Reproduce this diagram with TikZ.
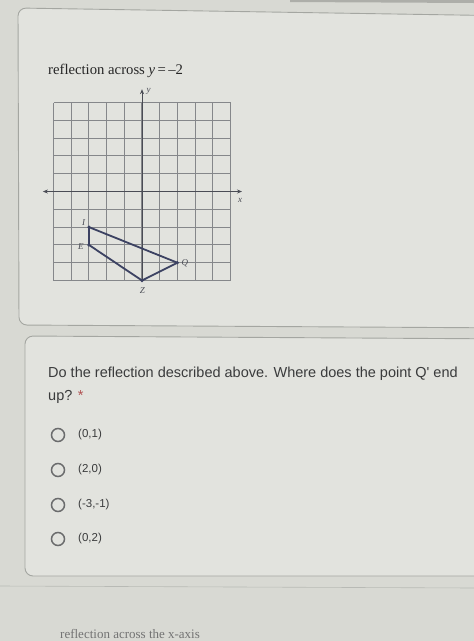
\documentclass[tikz,border=0pt]{standalone}
\usepackage{fontspec}
\setmainfont{Liberation Serif}
\newfontfamily\qfont{Liberation Sans}
\usetikzlibrary{arrows.meta}
\definecolor{bg}{HTML}{D8D9D3}
\definecolor{cardfill}{HTML}{E2E3DE}
\definecolor{cardline}{HTML}{A4A6A1}
\definecolor{gridc}{HTML}{85878A}
\definecolor{axisc}{HTML}{4A4C55}
\definecolor{tric}{HTML}{3C4262}
\definecolor{qtext}{HTML}{3A3B3C}
\definecolor{radio}{HTML}{6A6B6C}
\definecolor{starc}{HTML}{B05050}
\tikzset{
  card/.style={draw=cardline, line width=0.9pt, fill=cardfill, rounded corners=8pt},
  gridline/.style={draw=gridc, line width=1.1pt},
  axisline/.style={draw=axisc, line width=1pt, -{Stealth[length=5pt,width=4pt]}},
  triedge/.style={draw=tric, line width=1.8pt, line join=round},
  vlabel/.style={font=\fontsize{9}{9}\selectfont\itshape, text=axisc, inner sep=0pt},
  qline/.style={anchor=base west, inner sep=0pt, text=qtext, font=\qfont\fontsize{14.5}{16}\selectfont},
  optlabel/.style={anchor=west, inner sep=0pt, text=qtext, font=\qfont\fontsize{11.5}{13}\selectfont},
  radiobtn/.style={circle, draw=radio, line width=1.5pt, minimum size=13pt, inner sep=0pt},
  vdot/.style={circle, fill=tric, inner sep=0pt, minimum size=3.5pt},
}
\begin{document}
\begin{tikzpicture}[x=1pt,y=-1pt]
\useasboundingbox[fill=bg] (0,0) rectangle (474,641);
% top strip
\fill[cardline!80!black, opacity=0.5] (290,0) -- (474,0) -- (474,3) -- (290,2) -- cycle;
% card 1
\path[card] (520,16) -- (18,8) -- (19,325) -- (520,328);
% card 2
\path[card] (520,339) -- (25,336) -- (25,576) -- (520,576);
\draw[cardline, line width=0.6pt, opacity=0.6] (0,586) -- (474,588);

% title
\node[anchor=base west, inner sep=0pt, text=black!85, font=\fontsize{14.7}{16}\selectfont] (title) at (48,74) {reflection across \textit{y}\,=\,\textendash2};

% graph
\begin{scope}[shift={(142,191.5)}, x=17.7pt, y=17.8pt]
  \foreach \i in {-5,...,5} {
    \draw[gridline] (\i,-5) -- (\i,5);
    \draw[gridline] (-5,\i) -- (5,\i);
  }
  \coordinate (xl) at (-5.6,0);
  \coordinate (xr) at (5.65,0);
  \coordinate (yb) at (0,-5);
  \coordinate (yt) at (0,5.75);
  \draw[axisline, {Stealth[length=5pt,width=4pt]}-{Stealth[length=5pt,width=4pt]}] (xl) -- (xr);
  \draw[axisline] (yb) -- (yt);
  \node[vlabel, anchor=west] (ylab) at (0.25,5.6) {y};
  \node[vlabel, anchor=north] (xlab) at (5.55,-0.35) {x};
  \node[vdot] (I) at (-3,-2) {};
  \node[vdot] (E) at (-3,-3) {};
  \node[vdot] (Z) at (0,-5) {};
  \node[vdot] (Q) at (2,-4) {};
  \draw[triedge] (I.center) -- (E.center) -- (Z.center) -- (Q.center) -- cycle;
  \node[vlabel] (Il) at (-3.3,-1.75) {I};
  \node[vlabel] (El) at (-3.45,-3.1) {E};
  \node[vlabel] (Ql) at (2.42,-4.05) {Q};
  \node[vlabel] (Zl) at (0.02,-5.55) {Z};
\end{scope}

% question
\node[qline] (q1) at (48,377) {Do the reflection described above. Where does the point Q' end};
\node[qline] (q2) at (48,400) {up? \textcolor{starc}{*}};

% options
\node[radiobtn] (r1) at (58,435) {};
\node[optlabel] (o1) at (78,435) {(0,1)};
\node[radiobtn] (r2) at (58,470) {};
\node[optlabel] (o2) at (78,470) {(2,0)};
\node[radiobtn] (r3) at (58,505) {};
\node[optlabel] (o3) at (78,505) {(-3,-1)};
\node[radiobtn] (r4) at (58,539) {};
\node[optlabel] (o4) at (78,539) {(0,2)};

% partly visible text at the bottom
\node[anchor=base west, inner sep=0pt, text=black!55, font=\fontsize{13}{14}\selectfont] (next) at (60,638) {reflection across the x-axis};
\end{tikzpicture}
\end{document}
